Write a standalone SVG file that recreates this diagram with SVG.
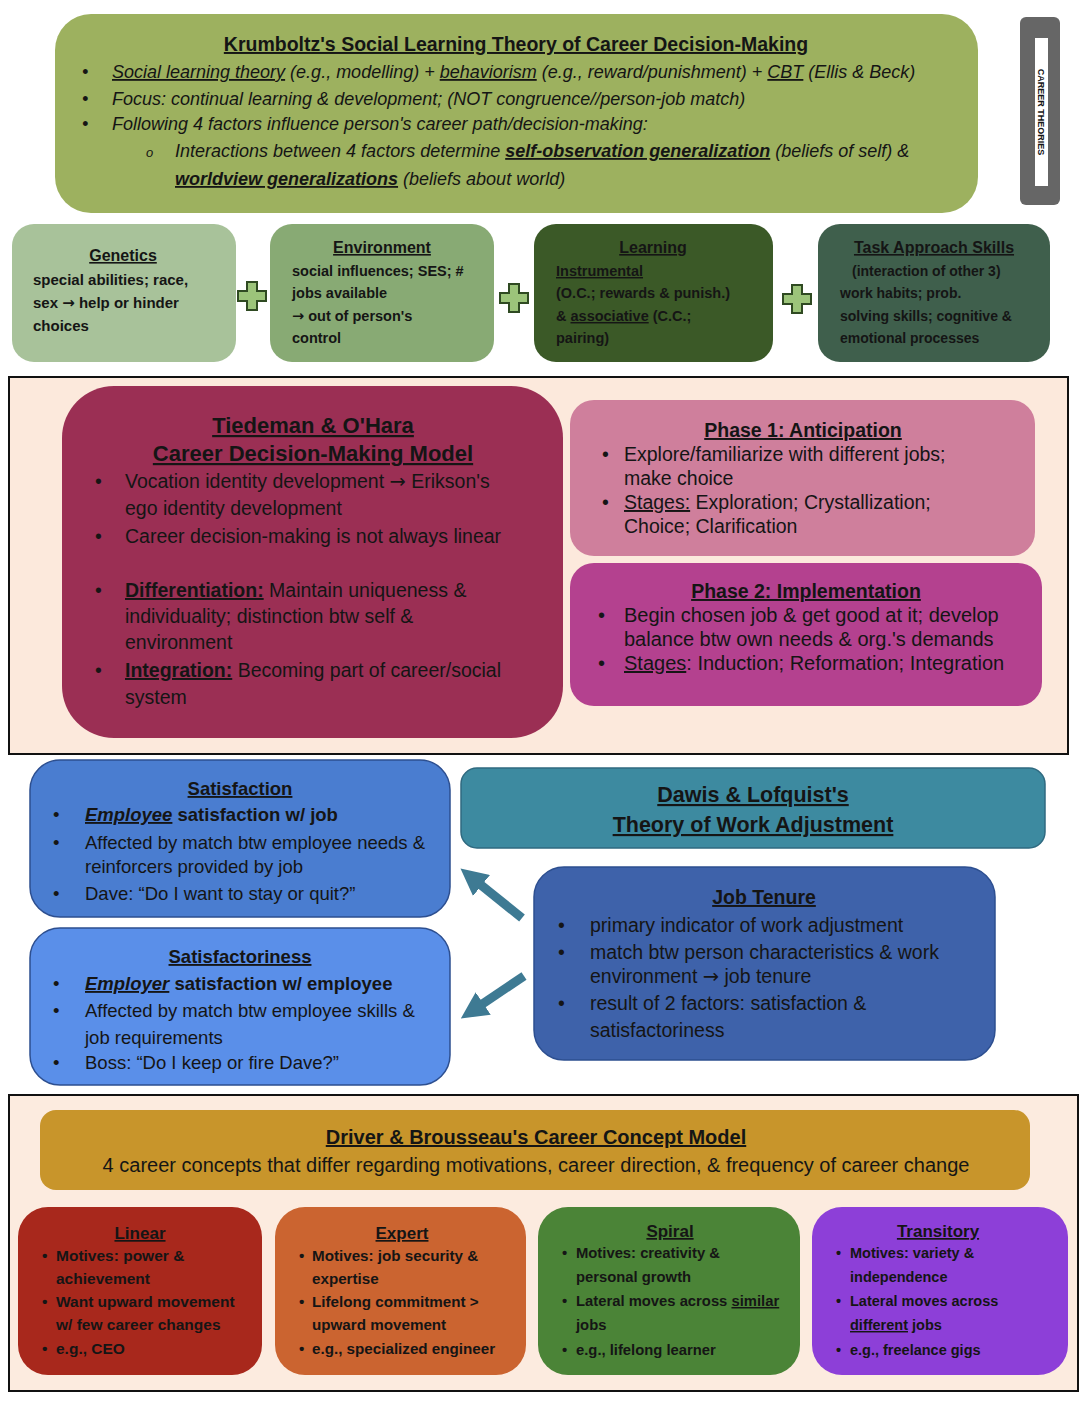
<svg xmlns="http://www.w3.org/2000/svg" width="1080" height="1403" viewBox="0 0 1080 1403">
<defs>
<style>
text{font-family:"Liberation Sans",Arial,sans-serif;fill:#151515}
.t{font-weight:bold;text-decoration:underline;text-anchor:middle}
.u{text-decoration:underline}
.b{font-weight:bold}
.i{font-style:italic}
.ar{font-family:"DejaVu Sans",sans-serif}
.blue{stroke:#2d4f90;stroke-width:1.5}
</style>
<marker id="ah" viewBox="0 0 10 10" refX="5" refY="5" markerWidth="3" markerHeight="3" orient="auto" markerUnits="strokeWidth">
<path d="M0,0 L10,5 L0,10 z" fill="#3e7a93"/>
</marker>
<path id="plus" d="M-5,-14 H5 V-5 H14 V5 H5 V14 H-5 V5 H-14 V-5 H-5 Z" fill="#9cc47a" stroke="#2f4a22" stroke-width="2"/>
</defs>
<rect width="1080" height="1403" fill="#ffffff"/>

<!-- Krumboltz -->
<g id="krumboltz">
<rect x="55" y="14" width="923" height="199" rx="36" fill="#9db15f"/>
<text x="516" y="51" class="t" font-size="19.5">Krumboltz's Social Learning Theory of Career Decision-Making</text>
<g font-size="18" class="i">
<text x="82" y="78">•</text>
<text x="112" y="78"><tspan class="u">Social learning theory</tspan> (e.g., modelling) + <tspan class="u">behaviorism</tspan> (e.g., reward/punishment) + <tspan class="u">CBT</tspan> (Ellis &amp; Beck)</text>
<text x="82" y="105">•</text>
<text x="112" y="105">Focus: continual learning &amp; development; (NOT congruence//person-job match)</text>
<text x="82" y="130">•</text>
<text x="112" y="130">Following 4 factors influence person's career path/decision-making:</text>
<text x="146" y="157" font-size="13">o</text>
<text x="175" y="157">Interactions between 4 factors determine <tspan class="u b">self-observation generalization</tspan> (beliefs of self) &amp;</text>
<text x="175" y="185"><tspan class="u b">worldview generalizations</tspan> (beliefs about world)</text>
</g>
</g>

<g id="tab">
<rect x="1020" y="17" width="40" height="188" rx="6" fill="#666666"/>
<rect x="1035" y="38" width="13" height="148" fill="#ffffff"/>
<text transform="translate(1038,112) rotate(90)" text-anchor="middle" font-size="9" font-weight="bold" fill="#333">CAREER THEORIES</text>
</g>

<!-- Factor row -->
<g id="genetics">
<rect x="12" y="224" width="224" height="138" rx="22" fill="#a8c29a"/>
<text x="123" y="261" class="t" font-size="16">Genetics</text>
<g font-size="15" class="b">
<text x="33" y="285">special abilities; race,</text>
<text x="33" y="308">sex <tspan class="ar">→</tspan> help or hinder</text>
<text x="33" y="331">choices</text>
</g>
</g>
<g id="plus1"><use href="#plus" x="252" y="296"/></g>
<g id="environment">
<rect x="270" y="224" width="224" height="138" rx="22" fill="#88aa74"/>
<text x="382" y="253" class="t" font-size="16">Environment</text>
<g font-size="14.5" class="b">
<text x="292" y="276">social influences; SES; #</text>
<text x="292" y="298">jobs available</text>
<text x="292" y="321"><tspan class="ar">→</tspan> out of person's</text>
<text x="292" y="343">control</text>
</g>
</g>
<g id="plus2"><use href="#plus" x="514" y="298"/></g>
<g id="learning">
<rect x="534" y="224" width="239" height="138" rx="22" fill="#3b5927"/>
<text x="653" y="253" class="t" font-size="16">Learning</text>
<g font-size="14.5" class="b">
<text x="556" y="276" class="u">Instrumental</text>
<text x="556" y="298">(O.C.; rewards &amp; punish.)</text>
<text x="556" y="321">&amp; <tspan class="u">associative</tspan> (C.C.;</text>
<text x="556" y="343">pairing)</text>
</g>
</g>
<g id="plus3"><use href="#plus" x="797" y="299"/></g>
<g id="taskskills">
<rect x="818" y="224" width="232" height="138" rx="22" fill="#3f5f4c"/>
<text x="934" y="253" class="t" font-size="16">Task Approach Skills</text>
<g font-size="14" class="b">
<text x="852" y="276">(interaction of other 3)</text>
<text x="840" y="298">work habits; prob.</text>
<text x="840" y="321">solving skills; cognitive &amp;</text>
<text x="840" y="343">emotional processes</text>
</g>
</g>

<!-- Tiedeman section -->
<rect x="9" y="377" width="1059" height="377" fill="#fce9dc" stroke="#111" stroke-width="2"/>
<g id="tiedeman">
<rect x="62" y="386" width="501" height="352" rx="52" fill="#9b2f54"/>
<text x="313" y="433" class="t" font-size="22">Tiedeman &amp; O'Hara</text>
<text x="313" y="461" class="t" font-size="22">Career Decision-Making Model</text>
<g font-size="19.5" fill="#2a0a14">
<text x="95" y="488">•</text>
<text x="125" y="488">Vocation identity development <tspan class="ar">→</tspan> Erikson's</text>
<text x="125" y="515">ego identity development</text>
<text x="95" y="543">•</text>
<text x="125" y="543">Career decision-making is not always linear</text>
<text x="95" y="597">•</text>
<text x="125" y="597"><tspan class="u b">Differentiation:</tspan> Maintain uniqueness &amp;</text>
<text x="125" y="623">individuality; distinction btw self &amp;</text>
<text x="125" y="649">environment</text>
<text x="95" y="677">•</text>
<text x="125" y="677"><tspan class="u b">Integration:</tspan> Becoming part of career/social</text>
<text x="125" y="704">system</text>
</g>
</g>
<g id="phase1">
<rect x="570" y="400" width="465" height="156" rx="24" fill="#cf7f9c"/>
<text x="803" y="437" class="t" font-size="19.5">Phase 1: Anticipation</text>
<g font-size="19.5">
<text x="602" y="461">•</text>
<text x="624" y="461">Explore/familiarize with different jobs;</text>
<text x="624" y="485">make choice</text>
<text x="602" y="509">•</text>
<text x="624" y="509"><tspan class="u">Stages:</tspan> Exploration; Crystallization;</text>
<text x="624" y="533">Choice; Clarification</text>
</g>
</g>
<g id="phase2">
<rect x="570" y="563" width="472" height="143" rx="24" fill="#b4418f"/>
<text x="806" y="598" class="t" font-size="19.5">Phase 2: Implementation</text>
<g font-size="20">
<text x="598" y="622">•</text>
<text x="624" y="622">Begin chosen job &amp; get good at it; develop</text>
<text x="624" y="646">balance btw own needs &amp; org.'s demands</text>
<text x="598" y="670">•</text>
<text x="624" y="670"><tspan class="u">Stages</tspan>: Induction; Reformation; Integration</text>
</g>
</g>

<!-- Work adjustment -->
<g id="satisfaction">
<rect x="30" y="760" width="420" height="157" rx="30" fill="#4a7dd0" class="blue"/>
<text x="240" y="795" class="t" font-size="18.5">Satisfaction</text>
<g font-size="18.5">
<text x="53" y="821">•</text>
<text x="85" y="821" class="b"><tspan class="u i">Employee</tspan> satisfaction w/ job</text>
<text x="53" y="849">•</text>
<text x="85" y="849">Affected by match btw employee needs &amp;</text>
<text x="85" y="873">reinforcers provided by job</text>
<text x="53" y="900">•</text>
<text x="85" y="900">Dave: “Do I want to stay or quit?”</text>
</g>
</g>
<g id="satisfactoriness">
<rect x="30" y="928" width="420" height="157" rx="30" fill="#5a8fe9" class="blue"/>
<text x="240" y="963" class="t" font-size="18.5">Satisfactoriness</text>
<g font-size="18.5">
<text x="53" y="990">•</text>
<text x="85" y="990" class="b"><tspan class="u i">Employer</tspan> satisfaction w/ employee</text>
<text x="53" y="1017">•</text>
<text x="85" y="1017">Affected by match btw employee skills &amp;</text>
<text x="85" y="1044">job requirements</text>
<text x="53" y="1069">•</text>
<text x="85" y="1069">Boss: “Do I keep or fire Dave?”</text>
</g>
</g>
<g id="dawis">
<rect x="461" y="768" width="584" height="80" rx="16" fill="#3d8aa0" stroke="#2f6a80" stroke-width="1.5"/>
<text x="753" y="802" class="t" font-size="21.5">Dawis &amp; Lofquist's</text>
<text x="753" y="832" class="t" font-size="21.5">Theory of Work Adjustment</text>
</g>
<g id="jobtenure">
<rect x="534" y="867" width="461" height="193" rx="30" fill="#3e62aa" class="blue"/>
<text x="764" y="904" class="t" font-size="19.5">Job Tenure</text>
<g font-size="19.5">
<text x="558" y="932">•</text>
<text x="590" y="932">primary indicator of work adjustment</text>
<text x="558" y="959">•</text>
<text x="590" y="959">match btw person characteristics &amp; work</text>
<text x="590" y="983">environment <tspan class="ar">→</tspan> job tenure</text>
<text x="558" y="1010">•</text>
<text x="590" y="1010">result of 2 factors: satisfaction &amp;</text>
<text x="590" y="1037">satisfactoriness</text>
</g>
</g>
<g id="connectors" stroke="#3e7a93" stroke-width="9" fill="none">
<line x1="522" y1="918" x2="471" y2="877" marker-end="url(#ah)"/>
<line x1="524" y1="976" x2="472" y2="1011" marker-end="url(#ah)"/>
</g>

<!-- Driver section -->
<rect x="9" y="1095" width="1069" height="296" fill="#fcebdf" stroke="#111" stroke-width="2"/>
<g id="driver">
<rect x="40" y="1110" width="990" height="80" rx="16" fill="#c8952b"/>
<text x="536" y="1144" class="t" font-size="20">Driver &amp; Brousseau's Career Concept Model</text>
<text x="536" y="1172" text-anchor="middle" font-size="20">4 career concepts that differ regarding motivations, career direction, &amp; frequency of career change</text>
</g>
<g id="linear">
<rect x="18" y="1207" width="244" height="168" rx="30" fill="#a8281c"/>
<text x="140" y="1239" class="t" font-size="17">Linear</text>
<g font-size="15.5" class="b">
<text x="42" y="1261">•</text><text x="56" y="1261">Motives: power &amp;</text>
<text x="56" y="1284">achievement</text>
<text x="42" y="1307">•</text><text x="56" y="1307">Want upward movement</text>
<text x="56" y="1330">w/ few career changes</text>
<text x="42" y="1354">•</text><text x="56" y="1354">e.g., CEO</text>
</g>
</g>
<g id="expert">
<rect x="275" y="1207" width="251" height="168" rx="30" fill="#cb6430"/>
<text x="402" y="1239" class="t" font-size="17">Expert</text>
<g font-size="15.2" class="b">
<text x="299" y="1261">•</text><text x="312" y="1261">Motives: job security &amp;</text>
<text x="312" y="1284">expertise</text>
<text x="299" y="1307">•</text><text x="312" y="1307">Lifelong commitment &gt;</text>
<text x="312" y="1330">upward movement</text>
<text x="299" y="1354">•</text><text x="312" y="1354">e.g., specialized engineer</text>
</g>
</g>
<g id="spiral">
<rect x="538" y="1207" width="262" height="168" rx="30" fill="#4b8437"/>
<text x="670" y="1237" class="t" font-size="17">Spiral</text>
<g font-size="14.8" class="b">
<text x="562" y="1258">•</text><text x="576" y="1258">Motives: creativity &amp;</text>
<text x="576" y="1282">personal growth</text>
<text x="562" y="1306">•</text><text x="576" y="1306">Lateral moves across <tspan class="u">similar</tspan></text>
<text x="576" y="1330">jobs</text>
<text x="562" y="1355">•</text><text x="576" y="1355">e.g., lifelong learner</text>
</g>
</g>
<g id="transitory">
<rect x="812" y="1207" width="256" height="168" rx="30" fill="#8d3fd8"/>
<text x="938" y="1237" class="t" font-size="17">Transitory</text>
<g font-size="14.5" class="b">
<text x="836" y="1258">•</text><text x="850" y="1258">Motives: variety &amp;</text>
<text x="850" y="1282">independence</text>
<text x="836" y="1306">•</text><text x="850" y="1306">Lateral moves across</text>
<text x="850" y="1330"><tspan class="u">different</tspan> jobs</text>
<text x="836" y="1355">•</text><text x="850" y="1355">e.g., freelance gigs</text>
</g>
</g>
</svg>
